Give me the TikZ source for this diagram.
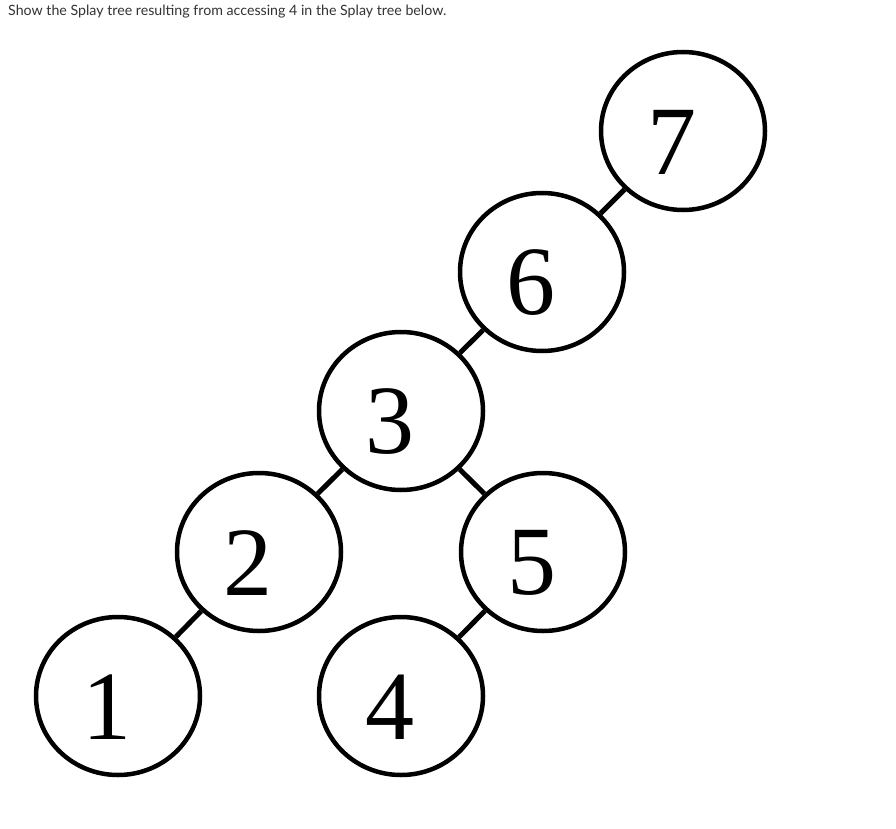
\documentclass[tikz,border=0pt]{standalone}
\usepackage{fontspec}
\setmainfont{Liberation Serif}
\newfontfamily\latofont{Lato}
\usetikzlibrary{shapes.geometric}
\usetikzlibrary{positioning}
\definecolor{qtext}{HTML}{333333}
\tikzset{digit/.style={font=\fontsize{98}{98}\selectfont,xshift=-11pt,yshift=-11pt,inner sep=0pt},
key/.style={ellipse,draw,line width=4.5pt,minimum width=164pt,minimum height=158pt,inner sep=0pt,label={[digit]center:#1}},
link/.style={line width=5pt}}
\begin{document}
\begin{tikzpicture}[x=1pt,y=-1pt]
\useasboundingbox[fill=white] (0,0) rectangle (896,829);
\node (q) [anchor=base west,inner sep=0pt,text=qtext,font=\latofont\fontsize{14.2}{16}\selectfont] at (8,15.5) {Show the Splay tree resulting from accessing 4 in the Splay tree below.};

\node (n7) [key=7] at (683,131) {};
\node (n6) [key=6] at (542,272) {};
\node (n3) [key=3] at (401,411) {};
\node (n2) [key=2] at (259,552) {};
\node (n5) [key=5] at (543,552) {};
\node (n1) [key=1] at (118,696) {};
\node (n4) [key=4] at (401,696) {};

\draw[link] (n7) -- (n6);
\draw[link] (n6) -- (n3);
\draw[link] (n3) -- (n2);
\draw[link] (n3) -- (n5);
\draw[link] (n2) -- (n1);
\draw[link] (n5) -- (n4);
\end{tikzpicture}
\end{document}
